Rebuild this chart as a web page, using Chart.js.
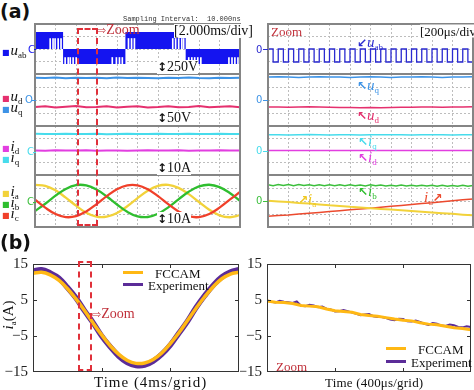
<!DOCTYPE html>
<html>
<head>
<meta charset="utf-8">
<script src="https://cdn.jsdelivr.net/npm/chart.js@4"></script>
<style>
body{margin:0;background:#fff;width:474px;height:390px;position:relative;overflow:hidden;font-family:"Liberation Serif",serif;color:#111}
canvas{position:absolute}
.t{position:absolute;white-space:nowrap;line-height:1;transform:translateY(-50%)}
.t sub{font-size:9px;vertical-align:baseline;position:relative;top:3px;font-style:normal}
.sq{font-family:"DejaVu Sans";font-size:8px;margin-right:1px}
.lab{font-size:15px}
.mk{font-family:"DejaVu Sans";font-size:10px}
.box{position:absolute;border:2px solid #858585;box-sizing:border-box}
.div{position:absolute;height:2px;background:#858585}
.zr{position:absolute;border:2px dashed #e0303a;box-sizing:border-box}
.arr{font-family:"DejaVu Sans";font-weight:bold;font-size:12px}
</style>
</head>
<body>
<script>
// ---------- data (a) left: 2ms/div, 10 divisions ----------
var divPos = [0,0.5,1,1.5,2,2.5,3,3.5,4,4.5,5,5.5,6,6.5,7,7.5,8,8.5,9,9.5,10];
var uabEdges = [0, 1.37, 4.41, 7.35, 10];
var uabLevels = [340, -300, 340, -300, -300];
// white gaps of the PWM near the zero crossings of the modulation
var notchPosHi = [0.74,0.88,0.98,1.13,1.27, 4.56,4.71,4.85, 6.72,6.86,7.01,7.16,7.25];
var notchPosLo = [1.47,1.62,1.72,1.86,2.01, 3.77,3.97,4.12,4.26, 7.50,7.65,7.79,7.94,8.09, 9.46,9.61,9.75,9.90];
var uqWide = [86,85,87,84,86,85,86,84,87,85,86,85,84,86,85,87,85,84,86,85,86];
var udWide = [-27,-24,-29,-26,-23,-28,-27,-24,-29,-26,-24,-29,-27,-24,-28,-27,-23,-28,-26,-24,-28];
var iqWide = [13.6,13.4,13.5,13.7,13.4,13.5,13.6,13.3,13.5,13.6,13.4,13.5,13.7,13.4,13.5,13.6,13.4,13.5,13.6,13.4,13.5];
var idWide = [0.1,-0.2,0.2,0,-0.1,0.2,-0.2,0.1,0,-0.2,0.1,0.2,-0.1,0,0.2,-0.2,0.1,-0.1,0.2,0,-0.1];
var iaWide = [12.4,11.7,8.2,2.6,-3.6,-9.0,-12.1,-12.1,-9.2,-4.0,2.2,7.9,11.6,12.4,10.1,5.3,-0.8,-6.7,-11.0,-12.5,-10.9];
var ibWide = [-7.8,-2.1,4.1,9.3,12.2,12.0,8.9,3.5,-2.7,-8.3,-11.8,-12.3,-9.8,-4.9,1.3,7.1,11.2,12.5,10.7,6.2,0.2];
var icWide = [1.0,-5.1,-10.0,-12.4,-11.7,-8.0,-2.4,3.8,9.1,12.1,12.1,9.1,3.8,-2.4,-8.0,-11.7,-12.4,-10.0,-5.1,1.0,6.9];

// ---------- data (a) right: 200us/div ----------
var uabZoom = [0,-260,0,-260,0,-260,0,-260,0,-260,0,-260,0,-260,0,-260,0,-260,0,-260,0,-260,0,-260,0,-260,0,-260,0,-260,0,-260,0,-260,0,-260,0,-260,0,-260,0];
var uqZoom = [88,89,88,87,88,89,88,88,87,88,89,88,87,88,88,89,88,87,88,88,89];
var udZoom = [-27,-27,-28,-27,-26,-27,-28,-29,-29,-30,-29,-30,-29,-28,-28,-27,-27,-28,-27,-27,-26];
var iqZoom = [12.8,12.9,12.7,12.8,13.0,12.8,12.7,12.9,12.8,12.7,12.9,12.8,12.8,12.9,12.7,12.8,12.9,12.8,12.7,12.8,12.9];
var idZoom = [0,0.1,-0.1,0,0.1,0,-0.1,0,0.1,-0.1,0,0.1,0,-0.1,0,0.1,0,-0.1,0,0.1,0];
var ibZoom = [12.6,11.8,12.7,11.9,12.6,11.8,12.6,11.9,12.5,11.7,12.5,11.8,12.5,11.8,12.4,11.7,12.4,11.8,12.3,11.6,12.4,11.7,12.3,11.6,12.2,11.5,12.3,11.6,12.2,11.5,12.1,11.5,12.2,11.4,12.1,11.4,12.0,11.4,12.1,11.3,12.0];
var iaZoom = [0.2,-0.3,-0.8,-1.6,-2.0,-2.6,-3.3,-3.8,-4.5,-5.0,-5.5,-6.1,-6.6,-7.2,-7.7,-8.3,-8.8,-9.4,-9.9,-10.5,-11.0];
var icZoom = [-11.8,-11.2,-10.7,-10.0,-9.4,-8.8,-8.1,-7.5,-6.8,-6.2,-5.5,-4.8,-4.1,-3.4,-2.7,-2.0,-1.4,-0.6,0.2,0.9,1.6];

// ---------- data (b) ----------
var tWide = [0,0.5,1,1.5,2,2.5,3,3.5,4,4.5,5,5.5,6,6.5,7,7.5,8,8.5,9,9.5,10,10.5,11,11.5,12];
var fccamWide = [12.4,12.7,12.0,10.5,8.2,5.3,2.1,-1.4,-4.7,-7.7,-10.1,-11.8,-12.6,-12.5,-11.5,-9.7,-7.1,-4.1,-0.7,2.7,5.9,8.7,10.9,12.2,12.7];
var expWide = [13.0,13.4,12.5,11.1,8.5,5.6,2.0,-1.3,-5.0,-8.0,-10.6,-12.4,-13.2,-13.1,-12.0,-10.1,-7.5,-4.2,-0.9,2.9,6.2,9.1,11.4,12.8,13.4];
var tZoom = [0,0.05,0.1,0.15,0.2,0.25,0.3,0.35,0.4,0.45,0.5,0.55,0.6,0.65,0.7,0.75,0.8,0.85,0.9,0.95,1.0,1.05,1.1,1.15,1.2];
var fccamZoom = [4.7,4.4,4.3,4.0,3.5,3.3,3.1,2.5,2.0,1.8,1.6,1.0,0.7,0.5,0.1,-0.3,-0.6,-0.8,-1.3,-1.7,-1.9,-2.3,-2.7,-2.9,-3.3];
// experiment in the zoom, sampled every 0.025 ms
var expZoom = [4.9,4.5,4.3,4.8,4.5,4.4,4.2,4.6,3.4,3.3,3.7,3.5,3.0,3.2,2.6,2.4,1.8,1.9,2.2,1.9,1.5,1.2,0.8,1.0,1.1,0.5,0.3,0.3,0.0,-0.4,-0.6,-0.2,-0.3,-0.9,-1.0,-0.7,-1.1,-1.6,-1.9,-1.4,-1.6,-2.1,-2.2,-1.8,-2.0,-2.5,-2.6,-2.3,-2.5];
var yTicksB = [-15,-10,-5,0,5,10,15];

function pts(xs, ys){ return ys.map(function(v,i){ return {x: xs[i], y: v}; }); }
function stepPts(step, ys){ return ys.map(function(v,i){ return {x: i*step, y: v}; }); }

function addCanvas(x, y, w, h){
  var c = document.createElement('canvas');
  c.width = w; c.height = h;
  c.style.left = x + 'px'; c.style.top = y + 'px';
  document.body.appendChild(c);
  return c;
}

function scopePanel(x, y, w, h, yMax, datasets){
  var c = addCanvas(x, y, w, h);
  return new Chart(c, {
    type: 'line',
    data: {datasets: datasets},
    options: {
      animation: false, responsive: false, devicePixelRatio: 1,
      layout: {padding: 0},
      plugins: {legend: {display: false}, tooltip: {enabled: false}},
      elements: {point: {radius: 0}},
      scales: {
        x: {type: 'linear', min: 0, max: 10, offset: false,
            ticks: {display: false, stepSize: 1},
            grid: {color: '#bdbdbd', drawTicks: false, offset: false},
            border: {display: false, dash: [2, 2]},
            afterFit: function(s){ s.height = 0; }},
        y: {type: 'linear', min: -yMax, max: yMax,
            ticks: {display: false, stepSize: yMax / 2},
            grid: {color: '#bdbdbd', drawTicks: false},
            border: {display: false, dash: [2, 2]},
            afterFit: function(s){ s.width = 0; }}
      }
    }
  });
}

function ln(data, color, width){
  return {data: data, borderColor: color, borderWidth: width || 2, tension: 0, fill: false};
}
function notches(pos, lo, hi){
  return {type: 'bar', data: pos.map(function(p){ return {x: p, y: [lo, hi]}; }),
          backgroundColor: '#ffffff', borderWidth: 0, barThickness: 1, grouped: false, order: -1};
}

var LX = 35, LW = 205, RX = 268, RW = 205;
var rows = [[24, 50], [74, 52], [126, 49], [175, 52]];

// left scope
scopePanel(LX, rows[0][0], LW, rows[0][1], 500, [
  {data: pts(uabEdges, uabLevels), stepped: true, borderWidth: 0,
   borderColor: '#1414f0', backgroundColor: '#1414f0', fill: 'origin', order: 1},
  notches(notchPosHi, 5, 210),
  notches(notchPosLo, -300, -170)
]);
scopePanel(LX, rows[1][0], LW, rows[1][1], 100, [
  ln(pts(divPos, uqWide), '#3d93e6', 2), ln(pts(divPos, udWide), '#e5306e', 2)]);
scopePanel(LX, rows[2][0], LW, rows[2][1], 20, [
  ln(pts(divPos, iqWide), '#47dcec', 2), ln(pts(divPos, idWide), '#e23ee0', 2)]);
var sine = function(d, col){ var o = ln(pts(divPos, d), col, 2.3); o.tension = 0.4; return o; };
scopePanel(LX, rows[3][0], LW, rows[3][1], 20, [
  sine(icWide, '#f0402a'), sine(ibWide, '#2fbe2f'), sine(iaWide, '#f2d23a')]);

// right scope
var sq = ln(stepPts(0.25, uabZoom), '#2b2bd0', 1.3); sq.stepped = true;
scopePanel(RX, rows[0][0], RW, rows[0][1], 500, [sq]);
scopePanel(RX, rows[1][0], RW, rows[1][1], 100, [
  ln(pts(divPos, uqZoom), '#3d93e6', 1.5), ln(pts(divPos, udZoom), '#e5306e', 1.5)]);
scopePanel(RX, rows[2][0], RW, rows[2][1], 20, [
  ln(pts(divPos, iqZoom), '#47dcec', 1.5), ln(pts(divPos, idZoom), '#e23ee0', 1.5)]);
scopePanel(RX, rows[3][0], RW, rows[3][1], 20, [
  ln(stepPts(0.25, ibZoom), '#3cbf3c', 1.5), ln(pts(divPos, iaZoom), '#f2d23a', 2), ln(pts(divPos, icZoom), '#ec4a2e', 1.5)]);

// ---------- (b) charts ----------
var frame = {
  id: 'frame',
  afterDraw: function(c){
    var ctx = c.ctx, a = c.chartArea, sx = c.scales.x, sy = c.scales.y;
    ctx.save();
    ctx.strokeStyle = '#333'; ctx.lineWidth = 1;
    ctx.strokeRect(a.left + 0.5, a.top + 0.5, a.right - a.left - 1, a.bottom - a.top - 1);
    ctx.beginPath();
    sx.ticks.forEach(function(t){
      if (t.value <= sx.min || t.value >= sx.max) return;
      var p = Math.round(sx.getPixelForValue(t.value)) + 0.5;
      ctx.moveTo(p, a.top); ctx.lineTo(p, a.top + 4);
      ctx.moveTo(p, a.bottom); ctx.lineTo(p, a.bottom - 4);
    });
    sy.ticks.forEach(function(t){
      if (t.value <= sy.min || t.value >= sy.max) return;
      var p = Math.round(sy.getPixelForValue(t.value)) + 0.5;
      ctx.moveTo(a.left, p); ctx.lineTo(a.left + 4, p);
      ctx.moveTo(a.right, p); ctx.lineTo(a.right - 4, p);
    });
    ctx.stroke();
    ctx.restore();
  }
};

function bChart(x, w, yw, fcData, exData, xMax, xStep, smooth){
  var c = addCanvas(x, 250, w, 140);
  return new Chart(c, {
    type: 'line',
    data: {datasets: [
      {label: 'FCCAM', data: fcData, borderColor: '#ffb814', borderWidth: smooth ? 3.5 : 3, tension: smooth ? 0.4 : 0},
      {label: 'Experiment', data: exData, borderColor: '#5b2c98', borderWidth: smooth ? 5.5 : 2, tension: smooth ? 0.4 : 0}
    ]},
    options: {
      animation: false, responsive: false, devicePixelRatio: 1,
      layout: {padding: {top: 6, right: 3, left: 0, bottom: 0}},
      plugins: {legend: {display: false}, tooltip: {enabled: false}},
      elements: {point: {radius: 0}},
      scales: {
        x: {type: 'linear', min: 0, max: xMax,
            ticks: {display: false, stepSize: xStep},
            grid: {display: false}, border: {display: false},
            afterFit: function(s){ s.height = 18; }},
        y: {type: 'linear', min: -15, max: 15,
            afterBuildTicks: function(s){ s.ticks = yTicksB.map(function(v){ return {value: v}; }); },
            ticks: {padding: 5, color: '#222', font: {family: 'Liberation Serif', size: 15},
                    callback: function(v){ return v < 0 ? '\u2212' + Math.abs(v) : String(v); }},
            grid: {display: false, drawTicks: false}, border: {display: false},
            afterFit: function(s){ s.width = yw; }}
      }
    },
    plugins: [frame]
  });
}

bChart(0, 242, 33, pts(tWide, fccamWide), pts(tWide, expWide), 12, 4, true);
bChart(240, 234, 27, pts(tZoom, fccamZoom), stepPts(0.025, expZoom), 1.2, 0.4, false);
</script>

<!-- scope frames -->
<div class="box" style="left:34px;top:23px;width:207px;height:205px"></div>
<div class="div" style="left:34px;top:73px;width:207px"></div>
<div class="div" style="left:34px;top:125px;width:207px"></div>
<div class="div" style="left:34px;top:174px;width:207px"></div>
<div class="box" style="left:267px;top:23px;width:207px;height:205px"></div>
<div class="div" style="left:267px;top:73px;width:207px"></div>
<div class="div" style="left:267px;top:125px;width:207px"></div>
<div class="div" style="left:267px;top:174px;width:207px"></div>

<div class="t" style="left:0;top:11px;font-family:'DejaVu Sans';font-weight:bold;font-size:19px">(a)</div>
<div class="t" style="left:0;top:242px;font-family:'DejaVu Sans';font-weight:bold;font-size:19px">(b)</div>
<div class="t" style="left:123px;top:19px;font-family:'Liberation Mono';font-size:7px;color:#333">Sampling Interval:&nbsp; 10.000ns</div>

<div class="t" style="left:174px;top:31px;font-size:14px;background:#fff">[2.000ms/div]</div>
<div class="t" style="left:420px;top:31px;font-size:13px;background:#fff">[200μs/div]</div>
<div class="t" style="left:271px;top:31px;font-size:13px;color:#c0303a">Zoom</div>

<!-- zoom window (a) -->
<div class="zr" style="left:77px;top:28px;width:21px;height:198px"></div>
<div class="t" style="left:97px;top:30px;font-size:14px;color:#c0303a"><span style="font-family:'DejaVu Sans';font-size:11px">⇨</span>Zoom</div>

<!-- scale marks -->
<div class="t" style="left:157px;top:67px;font-size:14px;background:#fff"><span class="arr">↕</span>250V</div>
<div class="t" style="left:157px;top:118px;font-size:14px;background:#fff"><span class="arr">↕</span>50V</div>
<div class="t" style="left:157px;top:168px;font-size:14px;background:#fff"><span class="arr">↕</span>10A</div>
<div class="t" style="left:157px;top:219px;font-size:14px;background:#fff"><span class="arr">↕</span>10A</div>

<!-- left channel labels -->
<div class="t lab" style="left:2px;top:50px"><span class="sq" style="color:#1414f0">■</span><i>u</i><sub>ab</sub></div>
<div class="t lab" style="left:2px;top:96px"><span class="sq" style="color:#e5306e">■</span><i>u</i><sub>d</sub></div>
<div class="t lab" style="left:2px;top:107px"><span class="sq" style="color:#3d93e6">■</span><i>u</i><sub>q</sub></div>
<div class="t lab" style="left:2px;top:146px"><span class="sq" style="color:#e23ee0">■</span><i>i</i><sub>d</sub></div>
<div class="t lab" style="left:2px;top:157px"><span class="sq" style="color:#47dcec">■</span><i>i</i><sub>q</sub></div>
<div class="t lab" style="left:2px;top:191px"><span class="sq" style="color:#f2d23a">■</span><i>i</i><sub>a</sub></div>
<div class="t lab" style="left:2px;top:202px"><span class="sq" style="color:#2fbe2f">■</span><i>i</i><sub>b</sub></div>
<div class="t lab" style="left:2px;top:213px"><span class="sq" style="color:#f0402a">■</span><i>i</i><sub>c</sub></div>

<div class="t mk" style="left:28px;top:50px;color:#1414f0">C</div>
<div class="div" style="left:34px;top:49px;width:2px;height:1px;background:#1414f0"></div>
<div class="t mk" style="left:25px;top:100px;color:#3d93e6">O</div>
<div class="div" style="left:32px;top:100px;width:4px;height:1px;background:#3d93e6"></div>
<div class="t mk" style="left:27px;top:152px;color:#47dcec">C</div>
<div class="div" style="left:33px;top:152px;width:3px;height:1px;background:#47dcec"></div>
<div class="t mk" style="left:27px;top:202px;color:#3cbf3c">C</div>
<div class="div" style="left:33px;top:202px;width:3px;height:1px;background:#3cbf3c"></div>

<!-- right channel markers -->
<div class="t mk" style="left:256px;top:50px;color:#2b2bd0">0</div>
<div class="div" style="left:263px;top:49px;width:5px;height:1px;background:#2b2bd0"></div>
<div class="t mk" style="left:256px;top:100px;color:#3d93e6">0</div>
<div class="div" style="left:263px;top:100px;width:5px;height:1px;background:#3d93e6"></div>
<div class="t mk" style="left:256px;top:151px;color:#47dcec">0</div>
<div class="div" style="left:263px;top:151px;width:5px;height:1px;background:#47dcec"></div>
<div class="t mk" style="left:256px;top:201px;color:#3cbf3c">0</div>
<div class="div" style="left:263px;top:201px;width:5px;height:1px;background:#3cbf3c"></div>

<!-- right annotations -->
<div class="t lab" style="left:357px;top:42px;color:#2b2bd0"><span class="arr">↙</span><i>u</i><sub>ab</sub></div>
<div class="t lab" style="left:357px;top:85px;color:#3d93e6"><span class="arr">↖</span><i>u</i><sub>q</sub></div>
<div class="t lab" style="left:357px;top:115px;color:#e5306e"><span class="arr">↖</span><i>u</i><sub>d</sub></div>
<div class="t lab" style="left:358px;top:141px;color:#47dcec"><span class="arr">↖</span><i>i</i><sub>q</sub></div>
<div class="t lab" style="left:358px;top:157px;color:#e23ee0"><span class="arr">↖</span><i>i</i><sub>d</sub></div>
<div class="t lab" style="left:358px;top:191px;color:#2fbe2f"><span class="arr">↖</span><i>i</i><sub>b</sub></div>
<div class="t lab" style="left:298px;top:199px;color:#f0c820"><span class="arr">↗</span><i>i</i><sub>a</sub></div>
<div class="t lab" style="left:424px;top:197px;color:#ec4a2e"><i>i</i><sub>c</sub><span class="arr">↗</span></div>

<!-- (b) texts -->
<div class="t" style="left:-6px;top:315px;font-size:15px;transform:translateY(-50%) rotate(-90deg)"><i>i</i><sub>a</sub>(A)</div>
<div class="t" style="left:94px;top:382px;font-size:15px;letter-spacing:1px">Time (4ms/grid)</div>
<div class="t" style="left:325px;top:382px;font-size:13px;letter-spacing:0.2px">Time (400μs/grid)</div>

<div class="div" style="left:123px;top:271px;width:20px;height:3px;background:#ffb814"></div>
<div class="t" style="left:155px;top:273px;font-size:13px">FCCAM</div>
<div class="div" style="left:123px;top:283px;width:20px;height:3px;background:#5b2c98"></div>
<div class="t" style="left:148px;top:285px;font-size:13px">Experiment</div>

<div class="zr" style="left:78px;top:261px;width:14px;height:110px"></div>
<div class="t" style="left:92px;top:314px;font-size:14px;color:#c0303a"><span style="font-family:'DejaVu Sans';font-size:11px">⇨</span>Zoom</div>

<div class="div" style="left:386px;top:347px;width:20px;height:3px;background:#ffb814"></div>
<div class="t" style="left:418px;top:349px;font-size:13px">FCCAM</div>
<div class="div" style="left:386px;top:360px;width:20px;height:3px;background:#5b2c98"></div>
<div class="t" style="left:411px;top:362px;font-size:13px">Experiment</div>
<div class="t" style="left:276px;top:366px;font-size:13px;color:#c0303a">Zoom</div>
</body>
</html>
